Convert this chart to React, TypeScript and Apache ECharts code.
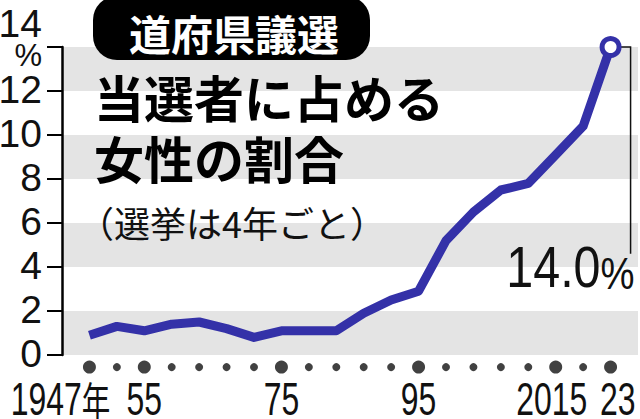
import React, { useEffect, useRef } from "react";
import * as echarts from "echarts";

// Election years (every 4 years) and share of women among winners (%)
const years = [1947, 1951, 1955, 1959, 1963, 1967, 1971, 1975, 1979, 1983, 1987, 1991, 1995, 1999, 2003, 2007, 2011, 2015, 2019, 2023];
const shares = [0.9, 1.3, 1.1, 1.4, 1.5, 1.2, 0.8, 1.1, 1.1, 1.1, 1.9, 2.5, 2.9, 5.2, 6.5, 7.5, 7.8, 9.1, 10.4, 14.0];
const labeledYears = [1947, 1955, 1975, 1995, 2015, 2023];
const yearLabels = ["1947年", "55", "75", "95", "2015", "23"];
const yTicks = [0, 2, 4, 6, 8, 10, 12, 14];
const yUnit = "%";

const badgeText = "道府県議選";
const titleLine1 = "当選者に占める";
const titleLine2 = "女性の割合";
const subtitle = "（選挙は4年ごと）";
const lastValueLabel = "14.0";

const LINE_COLOR = "#3431a8";
const BAND_COLOR = "#e4e4e4";
const SANS = "'Liberation Sans', Arial, sans-serif";
const CJK = "'Noto Sans CJK JP', 'Noto Sans CJK SC', sans-serif";

export default function App() {
  const ref = useRef<HTMLDivElement>(null);

  useEffect(() => {
    if (!ref.current) return;
    const chart = echarts.init(ref.current, null, { renderer: "svg" });
    const lastIdx = shares.length - 1;
    const yMax = yTicks[yTicks.length - 1];

    const option: any = {
      animation: false,
      backgroundColor: "#ffffff",
      grid: { left: 62, right: 2, top: 47, bottom: 64, containLabel: false, outerBoundsMode: "none" },
      xAxis: {
        type: "value",
        min: 1943,
        max: 2027,
        interval: 4,
        axisLine: { show: false },
        axisTick: { show: false },
        splitLine: { show: false },
        axisLabel: { show: false },
      },
      yAxis: {
        type: "value",
        min: 0,
        max: yMax,
        interval: 2,
        axisLine: { show: true, lineStyle: { color: "#000", width: 2.5 } },
        axisTick: { show: true, length: 15, lineStyle: { color: "#000", width: 2 } },
        splitLine: { show: false },
        splitArea: { show: true, areaStyle: { color: [BAND_COLOR, "rgba(255,255,255,0)"] } },
        axisLabel: {
          margin: 20,
          showMaxLabel: true,
          showMinLabel: true,
          hideOverlap: false,
          verticalAlignMaxLabel: "bottom",
          formatter: (v: number) => {
            if (!yTicks.includes(v)) return "";
            if (v === yMax) return "{n|" + v + "}";
            return "{m|" + v + "}";
          },
          rich: {
            m: { fontFamily: SANS, fontSize: 39, color: "#111", lineHeight: 34, padding: [0, 0, 4, 0] },
            n: { fontFamily: SANS, fontSize: 39, color: "#111", lineHeight: 30, padding: [0, 0, 18, 0] },
          },
        },
      },
      series: [
        {
          type: "line",
          data: years.map((y, i) =>
            i === lastIdx
              ? {
                  value: [y, shares[i]],
                  symbol: "circle",
                  symbolSize: 17,
                  itemStyle: { color: "#ffffff", borderColor: LINE_COLOR, borderWidth: 5 },
                }
              : { value: [y, shares[i]], symbol: "none" }
          ),
          showSymbol: true,
          symbol: "none",
          lineStyle: { color: LINE_COLOR, width: 9, join: "round" },
          z: 3,
          silent: true,
        },
        {
          type: "scatter",
          clip: false,
          data: years.map((y) => [y, -0.55]),
          symbol: "circle",
          symbolSize: (v: number[]) => (labeledYears.includes(v[0]) ? 13 : 8),
          itemStyle: { color: "#111" },
          silent: true,
        },
      ],
    };
    chart.setOption(option);

    const p = chart.convertToPixel({ gridIndex: 0 }, [years[lastIdx], shares[lastIdx]]) as number[];
    const leaderX = p[0] + 20;
    const leaderBottom = chart.convertToPixel({ yAxisIndex: 0 }, 4.6) as number;
    const baseY = chart.convertToPixel({ yAxisIndex: 0 }, 0) as number;
    const topY = chart.convertToPixel({ yAxisIndex: 0 }, yMax) as number;
    const axisX = chart.convertToPixel({ xAxisIndex: 0 }, 1943) as number;

    // year tick labels, placed at the axis positions of their years (narrowed like the original lettering)
    const yearTexts = labeledYears.map((yr, i) => {
      const x = chart.convertToPixel({ xAxisIndex: 0 }, yr) as number;
      const t = yearLabels[i];
      let anchorX = x;
      let align = "center";
      if (i === 0) {
        anchorX = x + 21;
        align = "right";
      } else if (i === labeledYears.length - 1) {
        anchorX = x + 25;
        align = "right";
      } else if (t.length === 4) {
        anchorX = x - 4;
      }
      const text = t.endsWith("年") ? "{d|" + t.slice(0, -1) + "}{k|年}" : "{d|" + t + "}";
      return {
        type: "text",
        z: 10,
        x: anchorX,
        y: baseY + 44,
        scaleX: 0.68,
        style: {
          text,
          align,
          verticalAlign: "middle",
          rich: {
            d: { fontFamily: SANS, fontSize: 47, fill: "#111", lineHeight: 48, verticalAlign: "middle" },
            k: { fontFamily: CJK, fontSize: 42, fill: "#111", lineHeight: 48, verticalAlign: "middle" },
          },
        },
        silent: true,
      };
    });

    chart.setOption({
      graphic: [
        ...yearTexts,
        {
          type: "text",
          z: 10,
          x: axisX - 20,
          y: topY + 8,
          style: {
            text: yUnit,
            fontFamily: SANS,
            fontSize: 31,
            fill: "#111",
            align: "right",
            verticalAlign: "middle",
          },
          silent: true,
        },
        {
          type: "polyline",
          z: 1,
          shape: { points: [[p[0], p[1]], [leaderX, p[1]], [leaderX, leaderBottom]] },
          style: { stroke: "#111", lineWidth: 1.5, fill: null },
          silent: true,
        },
        {
          type: "text",
          z: 10,
          x: leaderX + 4,
          y: leaderBottom + 42,
          scaleX: 0.85,
          style: {
            text: "{v|" + lastValueLabel + "}{u|%}",
            align: "right",
            verticalAlign: "bottom",
            rich: {
              v: { fontFamily: SANS, fontSize: 57, fill: "#111", verticalAlign: "bottom", lineHeight: 50 },
              u: { fontFamily: SANS, fontSize: 45, fill: "#111", verticalAlign: "bottom", lineHeight: 50 },
            },
          },
          silent: true,
        },
        {
          type: "rect",
          z: 10,
          shape: { x: 93, y: -4, width: 277, height: 64, r: 24 },
          style: { fill: "#000" },
          silent: true,
        },
        {
          type: "text",
          z: 11,
          x: 234,
          y: 32,
          style: {
            text: badgeText,
            fontFamily: CJK,
            fontSize: 42,
            fontWeight: "bold",
            fill: "#fff",
            align: "center",
            verticalAlign: "middle",
          },
          silent: true,
        },
        {
          type: "text",
          z: 10,
          x: 94,
          y: 96,
          style: {
            text: titleLine1,
            fontFamily: CJK,
            fontSize: 50,
            fontWeight: "bold",
            fill: "#000",
            align: "left",
            verticalAlign: "middle",
          },
          silent: true,
        },
        {
          type: "text",
          z: 10,
          x: 94,
          y: 157,
          style: {
            text: titleLine2,
            fontFamily: CJK,
            fontSize: 50,
            fontWeight: "bold",
            fill: "#000",
            align: "left",
            verticalAlign: "middle",
          },
          silent: true,
        },
        {
          type: "text",
          z: 10,
          x: 78,
          y: 222,
          style: {
            text: subtitle,
            fontFamily: CJK,
            fontSize: 36,
            fill: "#111",
            align: "left",
            verticalAlign: "middle",
          },
          silent: true,
        },
      ],
    });

    return () => chart.dispose();
  }, []);

  return <div ref={ref} style={{ width: 640, height: 419, position: "absolute", left: 0, top: 0 }} />;
}
